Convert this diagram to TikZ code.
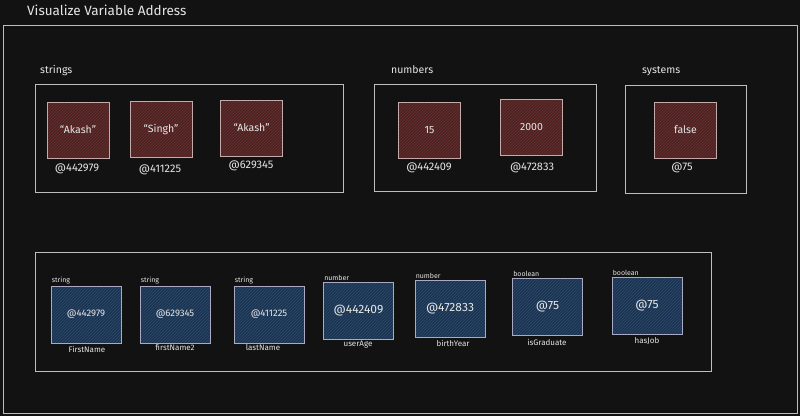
\documentclass[tikz,border=0pt]{standalone}
\usepackage{fontspec}
\setmainfont{Fira Sans}
\usepackage{tikz}
\usetikzlibrary{patterns}

\definecolor{bgdark}{HTML}{121212}
\definecolor{inkgray}{HTML}{BDBDBD}
\definecolor{textlight}{HTML}{E6E6E6}
\definecolor{valred}{HTML}{4A2323}
\definecolor{hatchred}{HTML}{6E3030}
\definecolor{refblue}{HTML}{1C3450}
\definecolor{hatchblue}{HTML}{2B4C6B}

\begin{document}
\begin{tikzpicture}[x=1pt, y=-1pt]
    \tikzstyle{frame} = [draw=inkgray, line width=0.8pt]
    \tikzstyle{valbox} = [rectangle, draw=inkgray!90!red, line width=0.8pt,
        preaction={fill=valred},
        preaction={pattern=north east lines, pattern color=hatchred},
        minimum width=62pt, minimum height=56pt, inner sep=0pt,
        text=textlight, font=\fontsize{10.5}{12}\selectfont]
    \tikzstyle{refbox} = [rectangle, draw=inkgray!90!blue, line width=0.8pt,
        preaction={fill=refblue},
        preaction={pattern=north east lines, pattern color=hatchblue},
        minimum width=70pt, minimum height=57pt, inner sep=0pt,
        text=textlight, font=\fontsize{9.5}{11}\selectfont]
    \tikzstyle{addr} = [text=textlight, font=\fontsize{11}{13}\selectfont, inner sep=1pt]
    \tikzstyle{group} = [text=textlight, font=\fontsize{10.5}{12}\selectfont, anchor=west, inner sep=0pt]
    \tikzstyle{kind} = [text=textlight, font=\fontsize{7}{8}\selectfont, anchor=south west, inner sep=1pt]
    \tikzstyle{varname} = [text=textlight, font=\fontsize{8}{9}\selectfont, inner sep=1pt]

    % Background and outer frame
    \fill[bgdark] (0,0) rectangle (800,416);
    \useasboundingbox (0,0) rectangle (800,416);
    \draw[frame] (3,25) rectangle (797,413);
    \node[group, font=\fontsize{13.5}{15}\selectfont] (title) at (27,10) {Visualize Variable Address};

    % Groups of values
    \draw[frame] (35,84) rectangle (343,192);
    \draw[frame] (374,84) rectangle (596,191);
    \draw[frame] (625,85) rectangle (746,193);
    \node[group] (strings) at (40,71) {strings};
    \node[group] (numbers) at (391,70) {numbers};
    \node[group] (systems) at (642,71) {systems};

    % Values
    \node[valbox] (s1) at (78,130) {``Akash''};
    \node[valbox] (s2) at (161,129.5) {``Singh''};
    \node[valbox] (s3) at (251.5,128) {``Akash''};
    \node[valbox] (n1) at (429.5,130) {15};
    \node[valbox] (n2) at (531.5,127) {2000};
    \node[valbox] (b1) at (685.5,130) {false};
    \node[addr] (as1) at (77,169) {@442979};
    \node[addr] (as2) at (160,170) {@411225};
    \node[addr] (as3) at (251,166) {@629345};
    \node[addr] (an1) at (429,168) {@442409};
    \node[addr] (an2) at (532,168) {@472833};
    \node[addr] (ab1) at (682,168) {@75};

    % Variables
    \draw[frame] (35,252) rectangle (711,371);
    \foreach \name/\x/\y/\kind/\ref/\var/\vx/\vy in {
        v1/86/314.5/string/@442979/FirstName/87/349,
        v2/175/314.5/string/@629345/firstName2/175/348,
        v3/269/314.5/string/@411225/lastName/263/348} {
        \node[refbox] (\name) at (\x,\y) {\ref};
        \node[kind] (\name k) at (\name.north west) {\kind};
        \node[varname] (\name n) at (\vx,\vy) {\var};
    }
    \foreach \name/\x/\y/\kind/\ref/\var/\vx/\vy in {
        v4/358.5/310.5/number/@442409/userAge/358/345,
        v5/450/308.5/number/@472833/birthYear/453/343,
        v6/547.5/306.5/boolean/@75/isGraduate/547/342,
        v7/647/305.5/boolean/@75/hasJob/647/341} {
        \node[refbox, font=\fontsize{12}{14}\selectfont] (\name) at (\x,\y) {\ref};
        \node[kind] (\name k) at (\name.north west) {\kind};
        \node[varname] (\name n) at (\vx,\vy) {\var};
    }

\end{tikzpicture}
\end{document}
